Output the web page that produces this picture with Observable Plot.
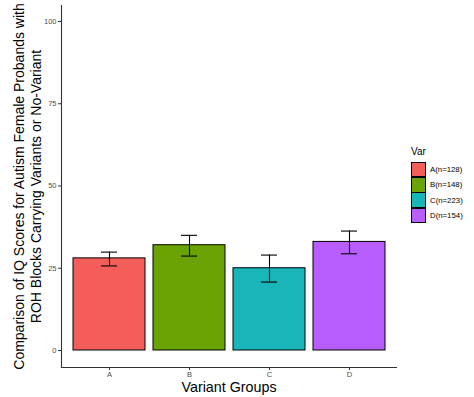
<!DOCTYPE html>
<html>
<head>
<meta charset="utf-8">
<script src="https://cdn.jsdelivr.net/npm/d3@7"></script>
<script src="https://cdn.jsdelivr.net/npm/@observablehq/plot@0.6"></script>
<style>
  html, body { margin: 0; padding: 0; background: #fff; }
  #wrap { position: relative; width: 474px; height: 397px; font-family: "Liberation Sans", Arial, sans-serif; }
  #legend { position: absolute; left: 411px; top: 146px; font-family: "Liberation Sans", Arial, sans-serif; }
  #legend .title { font-size: 10px; color: #000; height: 16px; line-height: 12px; }
  #legend .row { display: flex; align-items: center; height: 15.25px; }
  #legend .key { width: 13px; height: 13.5px; border: 1px solid #000; box-sizing: content-box; }
  #legend .lab { font-size: 7.8px; color: #000; margin-left: 4px; }
</style>
</head>
<body>
<div id="wrap"></div>
<script>
const groups = ["A", "B", "C", "D"];
const means = [28, 32, 25, 33];
const lows = [25.7, 28.7, 20.8, 29.4];
const highs = [29.9, 35.0, 29.0, 36.3];
const legendLabels = ["A(n=128)", "B(n=148)", "C(n=223)", "D(n=154)"];
const colors = ["#F35E5A", "#6BA305", "#18B5B9", "#B85EFF"];
const yTicks = [0, 25, 50, 75, 100];
const xTitle = "Variant Groups";
const yTitle = "Comparison of IQ Scores for Autism Female Probands with\nROH Blocks Carrying Variants or No-Variant";
const legendTitle = "Var";

const data = groups.map((g, i) => ({group: g, mean: means[i], low: lows[i], high: highs[i]}));
const font = "'Liberation Sans', Arial, sans-serif";

const chart = Plot.plot({
  width: 474,
  height: 397,
  marginLeft: 61,
  marginRight: 78,
  marginTop: 5,
  marginBottom: 30,
  style: {fontFamily: font, background: "#fff", overflow: "visible"},
  x: {domain: groups, paddingInner: 0.1, paddingOuter: 0.14375, axis: null},
  y: {domain: [-5.17, 104.86], axis: null},
  color: {domain: groups, range: colors},
  marks: [
    Plot.barY(data, {x: "group", y: "mean", fill: "group", stroke: "#000", strokeWidth: 1}),
    Plot.ruleX(data, {x: "group", y1: "low", y2: "high", stroke: "#000", strokeWidth: 1.1}),
    Plot.tickY(data, {x: "group", y: "low", stroke: "#000", strokeWidth: 1.1, insetLeft: 28, insetRight: 28}),
    Plot.tickY(data, {x: "group", y: "high", stroke: "#000", strokeWidth: 1.1, insetLeft: 28, insetRight: 28}),
    Plot.axisY({ticks: yTicks, tickSize: 3, tickPadding: 2, fontSize: 7.5, fill: "#4d4d4d", stroke: "#333", label: null}),
    Plot.axisX({tickSize: 3, tickPadding: 1, fontSize: 7.5, fill: "#4d4d4d", stroke: "#333", label: null}),
    Plot.frame({anchor: "left", stroke: "#333", strokeWidth: 1.1}),
    Plot.frame({anchor: "bottom", stroke: "#333", strokeWidth: 1.1}),
    Plot.text([xTitle], {frameAnchor: "bottom", dy: 20, fontSize: 14.3, fill: "#000", textAnchor: "middle", lineAnchor: "middle", fontFamily: font}),
    Plot.text([yTitle], {frameAnchor: "left", dx: -34, rotate: -90, fontSize: 14, lineHeight: 1.2, fill: "#000", textAnchor: "middle", lineAnchor: "middle", fontFamily: font})
  ]
});

const wrap = document.getElementById("wrap");
wrap.appendChild(chart);

const legend = document.createElement("div");
legend.id = "legend";
const t = document.createElement("div");
t.className = "title";
t.textContent = legendTitle;
legend.appendChild(t);
legendLabels.forEach((lab, i) => {
  const row = document.createElement("div");
  row.className = "row";
  const key = document.createElement("div");
  key.className = "key";
  key.style.background = colors[i];
  const l = document.createElement("span");
  l.className = "lab";
  l.textContent = lab;
  row.appendChild(key);
  row.appendChild(l);
  legend.appendChild(row);
});
wrap.appendChild(legend);
</script>
</body>
</html>
